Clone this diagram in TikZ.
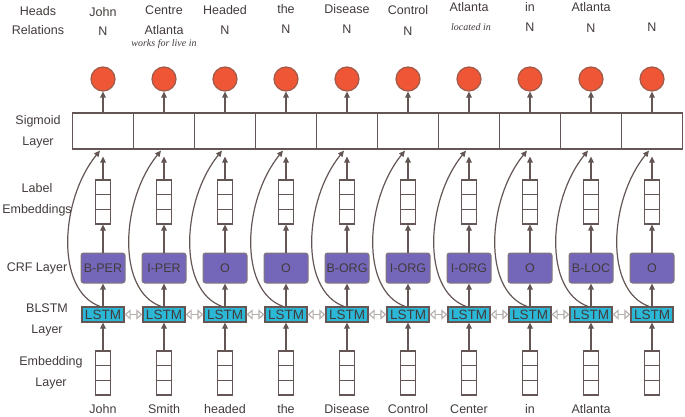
\documentclass[tikz,border=0pt]{standalone}
\usepackage{fontspec}
\setmainfont{Liberation Sans}
\newfontfamily\relfont{Liberation Serif}
\usetikzlibrary{arrows.meta,calc}
\definecolor{ln}{HTML}{645654}
\definecolor{txt}{HTML}{433B3B}
\definecolor{red1}{HTML}{EE5636}
\definecolor{redo}{HTML}{A05A4A}
\definecolor{purp}{HTML}{7467BA}
\definecolor{cyan1}{HTML}{2BB7D6}
\definecolor{lgray}{HTML}{B5AEAC}
\begin{document}
\begin{tikzpicture}[x=1pt,y=-1pt,
  font=\fontsize{12.5}{21}\selectfont,
  every node/.style={text=txt},
  circ/.style={circle, draw=redo, line width=1.2pt, fill=red1, minimum size=24pt, inner sep=0pt},
  sig/.style={draw=ln, line width=1.2pt, minimum width=61pt, minimum height=36pt, inner sep=0pt},
  tri/.style={draw=ln, line width=1.2pt, minimum width=15pt, minimum height=44pt, inner sep=0pt},
  crf/.style={draw=ln!80, fill=purp, rounded corners=2.5pt, line width=1pt, minimum width=44pt, minimum height=30pt, inner sep=0pt},
  lstm/.style={draw=ln, fill=cyan1, line width=1.2pt, minimum width=42pt, minimum height=15pt, inner sep=0pt, font=\fontsize{13.5}{13.5}\selectfont},
  arr/.style={draw=ln, line width=1.2pt, -{Triangle[length=6pt,width=5.5pt]}},
  biarr/.style={draw=lgray, line width=1.1pt, {Triangle[open,length=6pt,width=10pt]}-{Triangle[open,length=6pt,width=10pt]}},
  cell/.style={draw=ln, line width=1.2pt},
  lbl/.style={align=center, inner sep=0pt},
  rel/.style={font=\relfont\itshape\fontsize{10}{10}\selectfont, inner sep=0pt}
]
\useasboundingbox (0,0) rectangle (685,417);

\foreach \crf [count=\i] in {B-PER,I-PER,O,O,B-ORG,I-ORG,I-ORG,O,B-LOC,O} {
  \pgfmathsetmacro\x{103+61*(\i-1)}
  \node[sig] (s\i) at (\x,131) {};
  \node[circ] (c\i) at (\x,79) {};
  \node[tri] (le\i) at (\x,202) {};
  \node[crf] (r\i) at (\x,268) {\crf};
  \node[lstm] (l\i) at (\x,314.5) {LSTM};
  \node[tri] (e\i) at (\x,373) {};
  \foreach \b in {le\i,e\i} {
    \draw[cell] ($(\b.north west)!1/3!(\b.south west)$) -- ($(\b.north east)!1/3!(\b.south east)$);
    \draw[cell] ($(\b.north west)!2/3!(\b.south west)$) -- ($(\b.north east)!2/3!(\b.south east)$);
  }
  \draw[arr] (e\i.north) -- (l\i.south);
  \draw[arr] (l\i.north) -- (r\i.south);
  \draw[arr] (r\i.north) -- (le\i.south);
  \draw[arr, shorten >=7pt] (le\i.north) -- (s\i.south);
  \draw[arr] (s\i.north) -- (c\i.south);
  \draw[arr] ($(l\i.north)+(-3,0)$) .. controls +(-45,-16) and +(-40,49) .. ($(s\i.south)+(-3,1)$);
}
\foreach \i [evaluate=\i as \j using int(\i+1)] in {1,...,9} {
  \draw[biarr] (l\i.east) -- (l\j.west);
}

% head / relation rows
\node[lbl] (hh) at (38,11) {Heads};
\node[lbl] (hr) at (38,30) {Relations};
\node[lbl] (h1) at (103,12) {John};
\node[lbl] (r1) at (103,31) {N};
\node[lbl] (h2) at (164,10) {Centre};
\node[lbl] (r2) at (164,30) {Atlanta};
\node[rel] (x2) at (164,44) {works for live in};
\node[lbl] (h3) at (225,10) {Headed};
\node[lbl] (r3) at (225,30) {N};
\node[lbl] (h4) at (286,9) {the};
\node[lbl] (r4) at (286,29) {N};
\node[lbl] (h5) at (347,9) {Disease};
\node[lbl] (r5) at (347,29) {N};
\node[lbl] (h6) at (408,10) {Control};
\node[lbl] (r6) at (408,31) {N};
\node[lbl] (h7) at (469,7) {Atlanta};
\node[rel] (r7) at (471,27) {located in};
\node[lbl] (h8) at (530,7) {in};
\node[lbl] (r8) at (530,27) {N};
\node[lbl] (h9) at (591,7) {Atlanta};
\node[lbl] (r9) at (591,28) {N};
\node[lbl] (r10) at (652,27) {N};

% layer labels
\node[lbl] (Ls) at (38,132) {Sigmoid\\Layer};
\node[lbl] (Ll) at (37,200) {Label\\Embeddings};
\node[lbl] (Lc) at (37,268) {CRF Layer};
\node[lbl] (Lb) at (47,320) {BLSTM\\Layer};
\node[lbl] (Le) at (51,373) {Embedding\\Layer};

% words
\foreach \w [count=\i] in {John,Smith,headed,the,Disease,Control,Center,in,Atlanta} {
  \pgfmathsetmacro\x{103+61*(\i-1)}
  \node[lbl] (w\i) at (\x,409) {\w};
}
\end{tikzpicture}
\end{document}
